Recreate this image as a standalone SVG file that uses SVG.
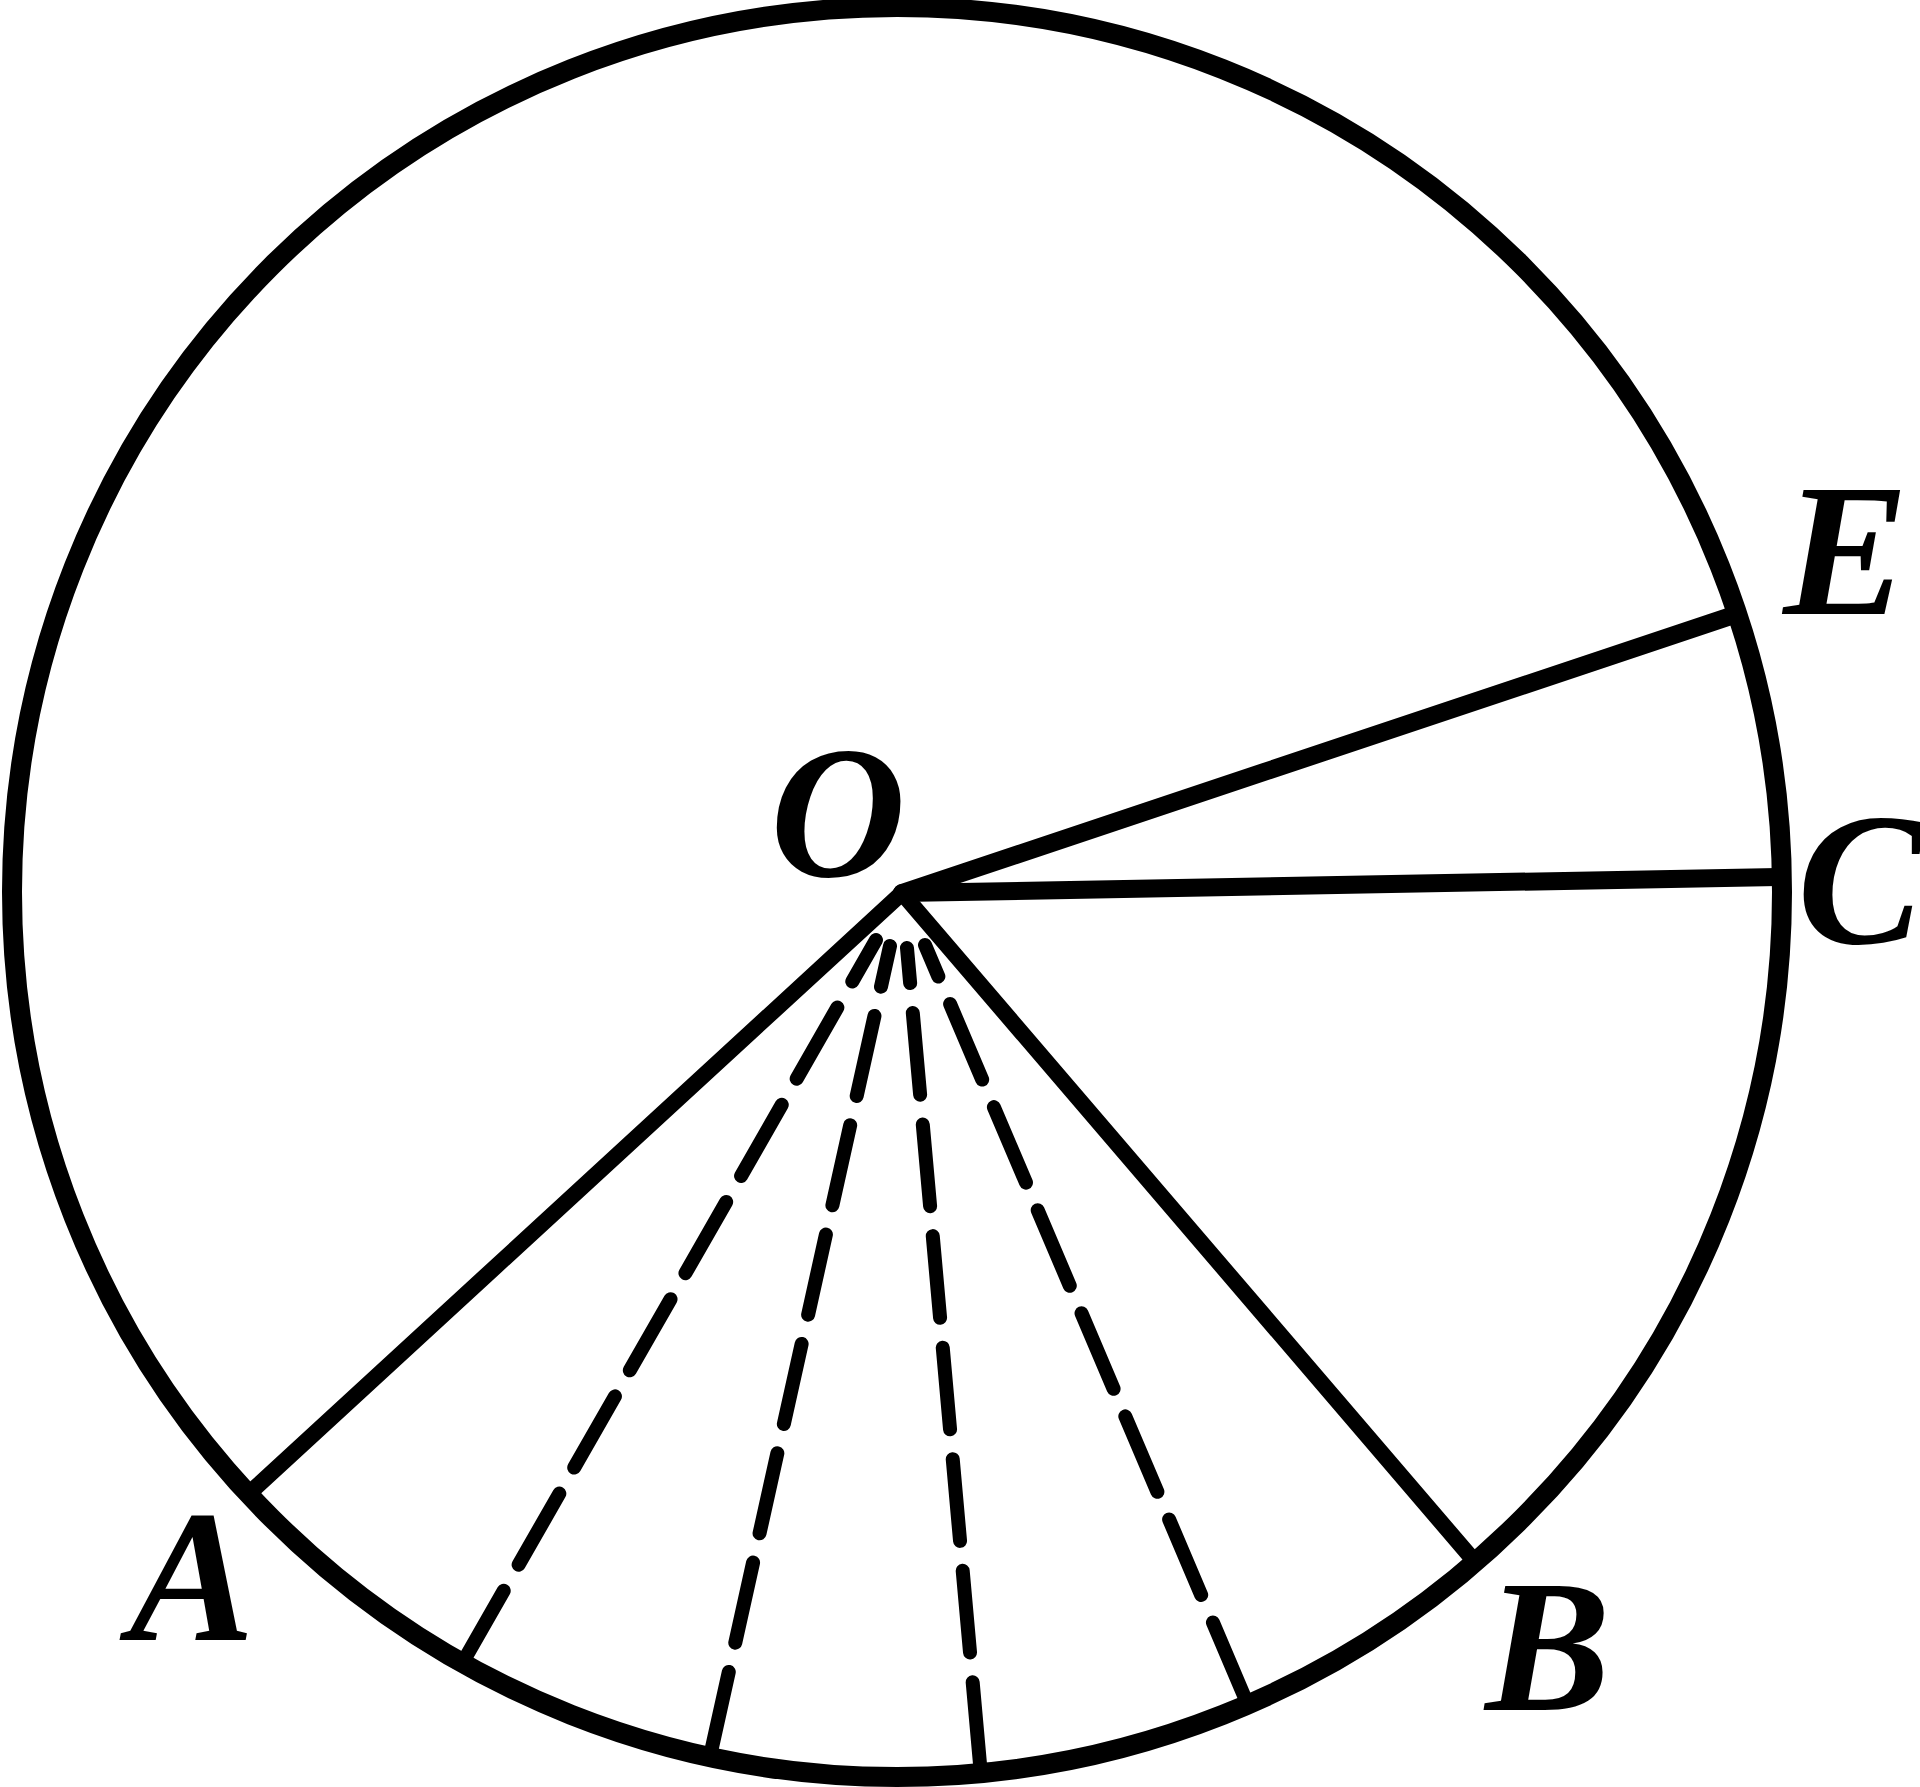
<svg xmlns="http://www.w3.org/2000/svg" width="1920" height="1787" viewBox="0 0 1920 1787">
<style>
.bg{fill:#ffffff}
.rim{fill:none;stroke:#000;stroke-width:20}
.solid{fill:none;stroke:#000;stroke-width:16;stroke-linecap:round}
.thick{fill:none;stroke:#000;stroke-width:18;stroke-linecap:round}
.dash{fill:none;stroke:#000;stroke-width:14;stroke-linecap:round;stroke-dasharray:82 30}
.lbl{font-family:"Liberation Serif","Times New Roman",serif;font-weight:bold;font-style:italic;font-size:188px;fill:#000;text-anchor:middle}
</style>
<rect class="bg" x="0" y="0" width="1920" height="1787"/>
<g id="circle">
<circle class="rim" cx="897" cy="892" r="885"/>
</g>
<g id="connectors">
<line class="solid" x1="902" y1="893" x2="255" y2="1488"/>
<line class="solid" x1="902" y1="893" x2="1470" y2="1556"/>
<line class="thick" x1="902" y1="893" x2="1731" y2="616"/>
<line class="thick" x1="902" y1="893" x2="1778" y2="877"/>
<path class="dash" d="M463,1662 L876,940"/>
<path class="dash" d="M711,1752 L890,946"/>
<path class="dash" d="M980,1764 L907,948"/>
<path class="dash" d="M1245,1698 L925,945"/>
</g>
<g id="node-O"><text class="lbl" x="838" y="876">O</text></g>
<g id="node-A"><text class="lbl" x="192" y="1640">A</text></g>
<g id="node-B"><text class="lbl" x="1548" y="1710">B</text></g>
<g id="node-E"><text class="lbl" x="1846" y="614">E</text></g>
<g id="node-C"><text class="lbl" x="1860" y="943" font-size="176">C</text></g>
</svg>
